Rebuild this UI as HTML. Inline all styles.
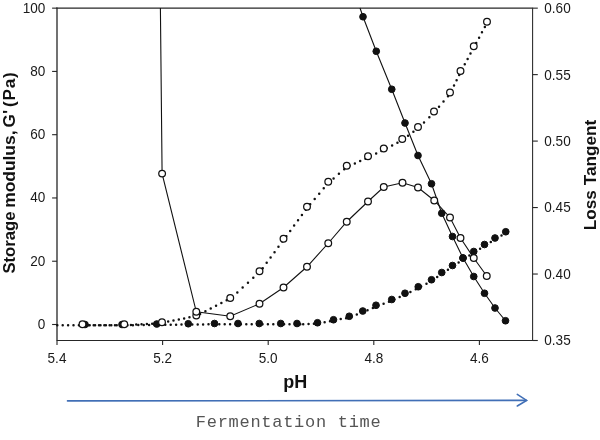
<!DOCTYPE html>
<html><head><meta charset="utf-8"><title>Fermentation chart</title>
<style>
html,body{margin:0;padding:0;background:#fff;}
body{width:600px;height:440px;position:relative;overflow:hidden;}
</style></head><body>
<svg width="600" height="440" viewBox="0 0 600 440" style="position:absolute;left:0;top:0">
<g stroke="#262626" stroke-width="1.1" fill="none">
<path d="M57,341.0 V7.550000000000001" stroke-width="1.3"/><path d="M56.4,8.15 H533.1" stroke-width="1.25"/><path d="M532.6,8.15 V341.0" stroke-width="1.05"/><path d="M57,340.5 H532.6" stroke-width="1.05"/>
<path d="M52.1,324.5 H57"/>
<path d="M52.1,261.23 H57"/>
<path d="M52.1,197.95999999999998 H57"/>
<path d="M52.1,134.69 H57"/>
<path d="M52.1,71.41999999999999 H57"/>
<path d="M52.1,8.149999999999977 H57"/>
<path d="M532.6,340.5 H537.8000000000001"/>
<path d="M532.6,274.03 H537.8000000000001"/>
<path d="M532.6,207.56 H537.8000000000001"/>
<path d="M532.6,141.09 H537.8000000000001"/>
<path d="M532.6,74.62 H537.8000000000001"/>
<path d="M532.6,8.149999999999977 H537.8000000000001"/>
<path d="M57.0,340.5 V345.0"/>
<path d="M162.6,340.5 V345.0"/>
<path d="M268.2,340.5 V345.0"/>
<path d="M373.79999999999995,340.5 V345.0"/>
<path d="M479.4,340.5 V345.0"/>
</g>
<path d="M57.30,325.30h0M62.70,325.30h0M68.10,325.30h0M73.50,325.30h0M78.90,325.30h0M84.30,325.30h0M89.70,325.30h0M95.10,325.30h0M100.50,325.30h0M105.90,325.30h0M111.30,325.30h0M116.70,325.30h0M122.10,325.30h0M127.50,325.22h0M132.90,325.14h0M138.30,325.07h0M143.70,324.99h0M149.10,324.91h0M154.50,324.83h0M159.90,324.78h0M165.30,324.73h0M170.70,324.69h0M176.10,324.65h0M181.50,324.60h0M186.90,324.56h0M192.30,324.51h0M197.70,324.46h0M203.10,324.41h0M208.50,324.36h0M213.90,324.31h0M219.30,324.30h0M224.70,324.30h0M230.10,324.30h0M235.50,324.30h0M240.90,324.30h0M246.30,324.30h0M251.70,324.30h0M257.10,324.30h0M262.50,324.30h0M267.90,324.30h0M273.30,324.30h0M278.70,324.30h0M284.10,324.30h0M289.50,324.30h0M294.90,324.30h0M300.30,324.18h0M303.20,324.17h0M308.56,323.98h0M313.92,323.78h0M319.28,323.32h0M324.64,322.31h0M330.00,321.31h0M335.36,320.24h0M340.72,319.05h0M346.08,318.25h0M351.44,316.70h0M356.80,314.61h0M362.16,312.53h0M367.52,310.23h0M372.88,307.90h0M378.24,305.73h0M383.60,303.78h0M388.96,301.82h0M394.32,299.59h0M399.68,297.06h0M405.04,294.53h0M410.40,291.90h0M415.76,289.27h0M421.12,286.53h0M426.48,283.70h0M431.84,280.81h0M437.20,277.02h0M442.56,273.27h0M447.92,269.78h0M453.28,266.24h0M458.64,262.41h0M464.00,258.70h0M469.36,255.45h0M474.72,252.17h0M480.08,248.68h0M485.44,245.22h0M490.80,241.90h0M496.16,238.63h0M501.52,235.51h0" fill="none" stroke="#111" stroke-width="2.5" stroke-linecap="round"/>
<path d="M83.05,325.25h0M88.37,325.25h0M93.69,325.25h0M99.01,325.25h0M104.33,325.25h0M109.65,325.25h0M114.97,325.25h0M120.29,325.25h0M125.61,325.18h0M130.93,324.90h0M136.25,324.61h0M141.57,324.33h0M146.89,324.05h0M152.21,323.77h0M157.53,323.49h0M162.85,322.58h0M168.17,321.54h0M173.49,320.49h0M178.81,319.44h0M184.13,318.39h0M189.45,317.35h0M194.77,316.30h0M200.09,314.05h0M205.41,311.30h0M210.73,308.56h0M216.05,305.82h0M221.37,303.08h0M226.69,300.34h0M232.01,297.29h0M237.33,292.43h0M242.65,287.56h0M247.97,282.69h0M253.29,277.83h0M258.61,272.96h0M262.75,268.15h0M266.68,262.83h0M270.61,257.51h0M274.54,252.19h0M278.46,246.87h0M282.39,241.55h0M286.31,236.23h0M290.21,230.91h0M294.12,225.59h0M298.03,220.27h0M301.93,214.95h0M305.84,209.63h0M310.18,204.31h0M314.70,198.99h0M319.22,193.67h0M323.74,188.35h0M328.27,183.03h0M333.59,178.43h0M338.91,173.83h0M344.23,169.23h0M349.55,165.80h0M354.87,163.42h0M360.19,161.04h0M365.51,158.66h0M370.83,156.16h0M376.15,153.54h0M381.47,150.92h0M386.79,148.24h0M392.11,145.51h0M397.43,142.78h0M402.75,139.92h0M408.07,135.87h0M413.39,131.81h0M418.71,127.61h0M424.03,122.46h0M429.35,117.30h0M434.56,112.13h0M439.04,106.81h0M443.52,101.49h0M448.00,96.17h0M451.43,90.85h0M454.02,85.53h0M456.61,80.21h0M459.19,74.89h0M461.91,69.57h0M464.77,64.25h0M467.63,58.93h0M470.49,53.61h0M473.35,48.29h0M476.23,42.97h0M479.10,37.65h0M481.98,32.33h0M484.86,27.01h0" fill="none" stroke="#111" stroke-width="2.5" stroke-linecap="round"/>
<polyline points="360,8 363,16.75 376.25,51.25 391.75,89.25 405,123 418,155.5 431.5,183.75 441.75,213.25 452.5,236.5 463,258 473.75,276.5 484.5,293.25 495,308 505.5,320.75" fill="none" stroke="#111" stroke-width="1.1"/>
<polyline points="160.4,8 162.1,173.6 196.3,311.8 230.25,316.25 259.5,303.75 283.5,287.5 307,266.75 328.25,243.25 346.75,221.75 368,201.5 383.75,187 402.5,182.75 418,187.5 434.25,200.5 450,217.5 460.5,238 473.75,258 486.75,276" fill="none" stroke="#111" stroke-width="1.1"/>
<circle cx="85" cy="324.5" r="3.35" fill="#111" stroke="#111" stroke-width="1"/>
<circle cx="122" cy="324.5" r="3.35" fill="#111" stroke="#111" stroke-width="1"/>
<circle cx="156.75" cy="324" r="3.35" fill="#111" stroke="#111" stroke-width="1"/>
<circle cx="188.25" cy="323.75" r="3.35" fill="#111" stroke="#111" stroke-width="1"/>
<circle cx="214.5" cy="323.5" r="3.35" fill="#111" stroke="#111" stroke-width="1"/>
<circle cx="238" cy="323.5" r="3.35" fill="#111" stroke="#111" stroke-width="1"/>
<circle cx="259.25" cy="323.5" r="3.35" fill="#111" stroke="#111" stroke-width="1"/>
<circle cx="280.75" cy="323.5" r="3.35" fill="#111" stroke="#111" stroke-width="1"/>
<circle cx="297" cy="323.5" r="3.35" fill="#111" stroke="#111" stroke-width="1"/>
<circle cx="317.5" cy="322.75" r="3.35" fill="#111" stroke="#111" stroke-width="1"/>
<circle cx="333.5" cy="319.75" r="3.35" fill="#111" stroke="#111" stroke-width="1"/>
<circle cx="349.25" cy="316.25" r="3.35" fill="#111" stroke="#111" stroke-width="1"/>
<circle cx="362.75" cy="311" r="3.35" fill="#111" stroke="#111" stroke-width="1"/>
<circle cx="376" cy="305.25" r="3.35" fill="#111" stroke="#111" stroke-width="1"/>
<circle cx="391.75" cy="299.5" r="3.35" fill="#111" stroke="#111" stroke-width="1"/>
<circle cx="405" cy="293.25" r="3.35" fill="#111" stroke="#111" stroke-width="1"/>
<circle cx="418.25" cy="286.75" r="3.35" fill="#111" stroke="#111" stroke-width="1"/>
<circle cx="431.5" cy="279.75" r="3.35" fill="#111" stroke="#111" stroke-width="1"/>
<circle cx="441.75" cy="272.5" r="3.35" fill="#111" stroke="#111" stroke-width="1"/>
<circle cx="452.5" cy="265.5" r="3.35" fill="#111" stroke="#111" stroke-width="1"/>
<circle cx="463" cy="258" r="3.35" fill="#111" stroke="#111" stroke-width="1"/>
<circle cx="473.75" cy="251.5" r="3.35" fill="#111" stroke="#111" stroke-width="1"/>
<circle cx="484.5" cy="244.5" r="3.35" fill="#111" stroke="#111" stroke-width="1"/>
<circle cx="495" cy="238" r="3.35" fill="#111" stroke="#111" stroke-width="1"/>
<circle cx="505.75" cy="231.75" r="3.35" fill="#111" stroke="#111" stroke-width="1"/>
<circle cx="363" cy="16.75" r="3.35" fill="#111" stroke="#111" stroke-width="1"/>
<circle cx="376.25" cy="51.25" r="3.35" fill="#111" stroke="#111" stroke-width="1"/>
<circle cx="391.75" cy="89.25" r="3.35" fill="#111" stroke="#111" stroke-width="1"/>
<circle cx="405" cy="123" r="3.35" fill="#111" stroke="#111" stroke-width="1"/>
<circle cx="418" cy="155.5" r="3.35" fill="#111" stroke="#111" stroke-width="1"/>
<circle cx="431.5" cy="183.75" r="3.35" fill="#111" stroke="#111" stroke-width="1"/>
<circle cx="441.75" cy="213.25" r="3.35" fill="#111" stroke="#111" stroke-width="1"/>
<circle cx="452.5" cy="236.5" r="3.35" fill="#111" stroke="#111" stroke-width="1"/>
<circle cx="463" cy="258" r="3.35" fill="#111" stroke="#111" stroke-width="1"/>
<circle cx="473.75" cy="276.5" r="3.35" fill="#111" stroke="#111" stroke-width="1"/>
<circle cx="484.5" cy="293.25" r="3.35" fill="#111" stroke="#111" stroke-width="1"/>
<circle cx="495" cy="308" r="3.35" fill="#111" stroke="#111" stroke-width="1"/>
<circle cx="505.5" cy="320.75" r="3.35" fill="#111" stroke="#111" stroke-width="1"/>
<circle cx="82.5" cy="324.25" r="3.35" fill="#fff" stroke="#111" stroke-width="1.25"/>
<circle cx="124.25" cy="324.25" r="3.35" fill="#fff" stroke="#111" stroke-width="1.25"/>
<circle cx="162" cy="322.25" r="3.35" fill="#fff" stroke="#111" stroke-width="1.25"/>
<circle cx="196.3" cy="315.5" r="3.35" fill="#fff" stroke="#111" stroke-width="1.25"/>
<circle cx="230.25" cy="298" r="3.35" fill="#fff" stroke="#111" stroke-width="1.25"/>
<circle cx="259.5" cy="271.25" r="3.35" fill="#fff" stroke="#111" stroke-width="1.25"/>
<circle cx="283.5" cy="238.75" r="3.35" fill="#fff" stroke="#111" stroke-width="1.25"/>
<circle cx="307" cy="206.75" r="3.35" fill="#fff" stroke="#111" stroke-width="1.25"/>
<circle cx="328.25" cy="181.75" r="3.35" fill="#fff" stroke="#111" stroke-width="1.25"/>
<circle cx="346.75" cy="165.75" r="3.35" fill="#fff" stroke="#111" stroke-width="1.25"/>
<circle cx="368" cy="156.25" r="3.35" fill="#fff" stroke="#111" stroke-width="1.25"/>
<circle cx="383.75" cy="148.5" r="3.35" fill="#fff" stroke="#111" stroke-width="1.25"/>
<circle cx="402.25" cy="139" r="3.35" fill="#fff" stroke="#111" stroke-width="1.25"/>
<circle cx="418" cy="127" r="3.35" fill="#fff" stroke="#111" stroke-width="1.25"/>
<circle cx="434" cy="111.5" r="3.35" fill="#fff" stroke="#111" stroke-width="1.25"/>
<circle cx="450" cy="92.5" r="3.35" fill="#fff" stroke="#111" stroke-width="1.25"/>
<circle cx="460.5" cy="70.9" r="3.35" fill="#fff" stroke="#111" stroke-width="1.25"/>
<circle cx="473.75" cy="46.25" r="3.35" fill="#fff" stroke="#111" stroke-width="1.25"/>
<circle cx="487" cy="21.75" r="3.35" fill="#fff" stroke="#111" stroke-width="1.25"/>
<circle cx="162.1" cy="173.6" r="3.35" fill="#fff" stroke="#111" stroke-width="1.25"/>
<circle cx="196.3" cy="311.8" r="3.35" fill="#fff" stroke="#111" stroke-width="1.25"/>
<circle cx="230.25" cy="316.25" r="3.35" fill="#fff" stroke="#111" stroke-width="1.25"/>
<circle cx="259.5" cy="303.75" r="3.35" fill="#fff" stroke="#111" stroke-width="1.25"/>
<circle cx="283.5" cy="287.5" r="3.35" fill="#fff" stroke="#111" stroke-width="1.25"/>
<circle cx="307" cy="266.75" r="3.35" fill="#fff" stroke="#111" stroke-width="1.25"/>
<circle cx="328.25" cy="243.25" r="3.35" fill="#fff" stroke="#111" stroke-width="1.25"/>
<circle cx="346.75" cy="221.75" r="3.35" fill="#fff" stroke="#111" stroke-width="1.25"/>
<circle cx="368" cy="201.5" r="3.35" fill="#fff" stroke="#111" stroke-width="1.25"/>
<circle cx="383.75" cy="187" r="3.35" fill="#fff" stroke="#111" stroke-width="1.25"/>
<circle cx="402.5" cy="182.75" r="3.35" fill="#fff" stroke="#111" stroke-width="1.25"/>
<circle cx="418" cy="187.5" r="3.35" fill="#fff" stroke="#111" stroke-width="1.25"/>
<circle cx="434.25" cy="200.5" r="3.35" fill="#fff" stroke="#111" stroke-width="1.25"/>
<circle cx="450" cy="217.5" r="3.35" fill="#fff" stroke="#111" stroke-width="1.25"/>
<circle cx="460.5" cy="238" r="3.35" fill="#fff" stroke="#111" stroke-width="1.25"/>
<circle cx="473.75" cy="258" r="3.35" fill="#fff" stroke="#111" stroke-width="1.25"/>
<circle cx="486.75" cy="276" r="3.35" fill="#fff" stroke="#111" stroke-width="1.25"/>
<g stroke="#416fb6" stroke-width="1.6" fill="none" stroke-linecap="round"><path d="M67.5,400.9 L526.3,400.4"/><path d="M517.3,394.4 L526.6,400.4 L517.3,406"/></g>
<g font-family="Liberation Sans, Arial, Helvetica, sans-serif" font-size="14.2" fill="#1a1a1a">
<text transform="translate(45.4,328.85) scale(0.955,1)" text-anchor="end">0</text>
<text transform="translate(45.4,265.58) scale(0.955,1)" text-anchor="end">20</text>
<text transform="translate(45.4,202.31) scale(0.955,1)" text-anchor="end">40</text>
<text transform="translate(45.4,139.04) scale(0.955,1)" text-anchor="end">60</text>
<text transform="translate(45.4,75.77) scale(0.955,1)" text-anchor="end">80</text>
<text transform="translate(45.4,12.50) scale(0.955,1)" text-anchor="end">100</text>
<text transform="translate(544.3,345.40) scale(0.955,1)">0.35</text>
<text transform="translate(544.3,278.93) scale(0.955,1)">0.40</text>
<text transform="translate(544.3,212.46) scale(0.955,1)">0.45</text>
<text transform="translate(544.3,145.99) scale(0.955,1)">0.50</text>
<text transform="translate(544.3,79.52) scale(0.955,1)">0.55</text>
<text transform="translate(544.3,13.05) scale(0.955,1)">0.60</text>
<text transform="translate(57.00,363.3) scale(0.955,1)" text-anchor="middle">5.4</text>
<text transform="translate(162.60,363.3) scale(0.955,1)" text-anchor="middle">5.2</text>
<text transform="translate(268.20,363.3) scale(0.955,1)" text-anchor="middle">5.0</text>
<text transform="translate(373.80,363.3) scale(0.955,1)" text-anchor="middle">4.8</text>
<text transform="translate(479.40,363.3) scale(0.955,1)" text-anchor="middle">4.6</text>
</g>
<g font-family="Liberation Sans, Arial, Helvetica, sans-serif" font-weight="bold" fill="#111">
<text font-size="17.2" transform="translate(15,0) rotate(-90)"><tspan x="-273.6" font-size="16.7">Storage </tspan><tspan x="-207.8" font-size="17.4">modulus, </tspan><tspan x="-127.4">G' </tspan><tspan x="-107" letter-spacing="0.75">(Pa)</tspan></text>
<text font-size="17.2" transform="translate(595.6,175) rotate(-90)" text-anchor="middle">Loss Tangent</text>
<text font-size="18" x="295.2" y="388.2" text-anchor="middle">pH</text>
</g>
<text font-family="Liberation Mono, Courier New, monospace" font-size="17" letter-spacing="0.72" fill="#555" x="195.8" y="427.3">Fermentation time</text>
</svg>
</body></html>
